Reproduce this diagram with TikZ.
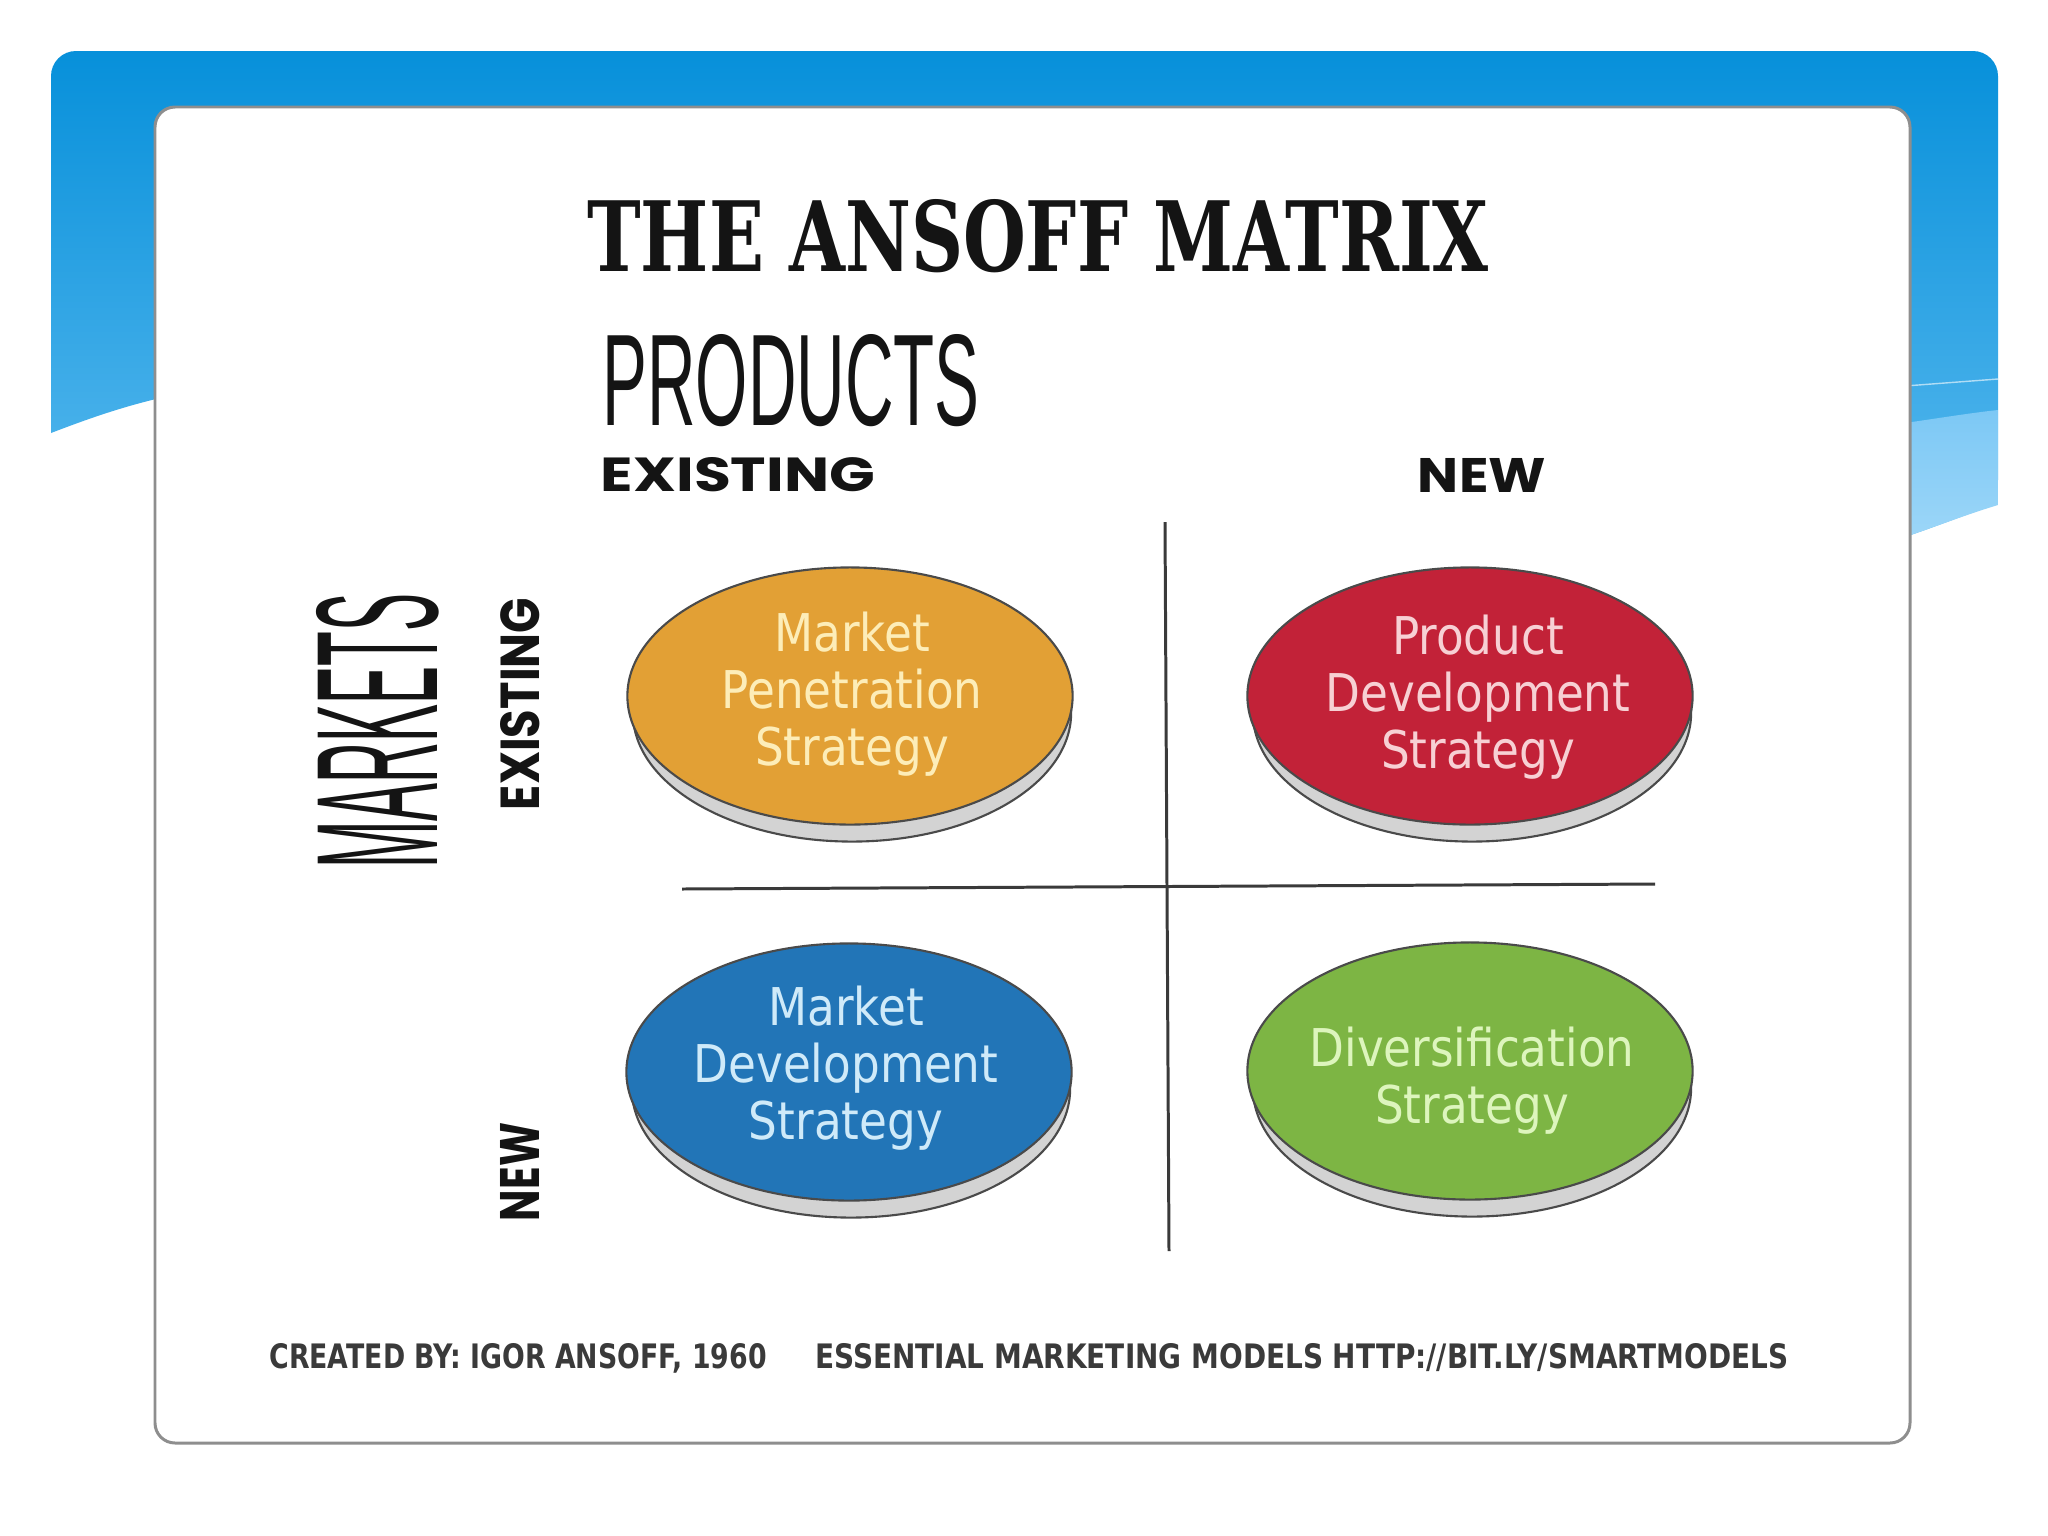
\documentclass[tikz,border=0pt]{standalone}
\usepackage{fontspec}
\setmainfont{DejaVu Sans}
\newfontfamily\titlef{DejaVu Serif}
\newfontfamily\thinf{Liberation Sans}
\newfontfamily\popf{Poppins}
\newfontfamily\footf{DejaVu Sans}
\newfontfamily\discf{DejaVu Sans}[FakeStretch=0.87]
\usetikzlibrary{shapes.geometric}
\definecolor{hdrTop}{HTML}{0790DA}
\definecolor{hdrBot}{HTML}{62BEF1}
\definecolor{bandTop}{HTML}{7CC8F5}
\definecolor{bandBot}{HTML}{9CD6F8}
\definecolor{cardLine}{HTML}{8E8E8E}
\definecolor{inkC}{HTML}{141414}
\definecolor{axisC}{HTML}{3A3A3A}
\definecolor{orangeC}{HTML}{E2A035}
\definecolor{redC}{HTML}{C22238}
\definecolor{blueC}{HTML}{2275B7}
\definecolor{greenC}{HTML}{7DB544}
\definecolor{orangeT}{HTML}{FDEDB8}
\definecolor{redT}{HTML}{F7D0D4}
\definecolor{blueT}{HTML}{CFEAF9}
\definecolor{greenT}{HTML}{DDF5BD}
\definecolor{rimC}{HTML}{D3D3D3}
\definecolor{rimLine}{HTML}{4A4A4A}
\begin{document}
\begin{tikzpicture}[x=0.01cm, y=-0.01cm,
  lbl/.style={inner sep=0pt, outer sep=0pt, text=inkC},
  axisline/.style={draw=axisC, line width=0.85pt},
  disc/.style={ellipse, draw=rimLine, line width=0.6pt, minimum width=4.45cm, minimum height=2.57cm, inner sep=0pt},
  rim/.style={ellipse, draw=rimLine, fill=rimC, line width=0.6pt, minimum width=4.38cm, minimum height=2.57cm, inner sep=0pt},
  disclabel/.style={inner sep=0pt, align=center, font=\discf\fontsize{14.8}{16.2}\selectfont},
  cardstyle/.style={fill=white, draw=cardLine, line width=0.85pt, rounded corners=0.2cm}
]
\useasboundingbox (0,0) rectangle (2048,1536);
\fill[white] (0,0) rectangle (2048,1536);

% header band
\shade[top color=hdrTop, bottom color=hdrBot, rounded corners=0.25cm]
  (51,433) -- (51,51) -- (1998,51) -- (1998,505) [sharp corners]
  .. controls (1965,515) and (1940,525) .. (1905,537) -- (1905,600) -- (160,600) -- (160,398)
  .. controls (118,408) and (85,420) .. (51,433) -- cycle;
\shade[top color=bandTop, bottom color=bandBot]
  (1905,423) .. controls (1940,418) and (1970,413) .. (1998,410) -- (1998,505)
  .. controls (1965,515) and (1940,525) .. (1905,537) -- cycle;
\draw[white, opacity=0.6, line width=0.4pt] (1905,386) -- (1998,379);

% card
\draw[cardstyle] (155,107) rectangle (1910,1443);

% titles
\node[lbl] (title) at (1038,236) {\resizebox{9.01cm}{0.72cm}{\titlef\bfseries THE ANSOFF MATRIX}};
\node[lbl] (products) at (791,381) {\resizebox{3.77cm}{0.91cm}{\thinf PRODUCTS}};
\node[lbl] (pexist) at (738,475) {\resizebox{2.74cm}{0.34cm}{\popf\bfseries EXISTING}};
\node[lbl] (pnew) at (1482,475) {\resizebox{1.28cm}{0.34cm}{\popf\bfseries NEW}};
\node[lbl, rotate=90] (markets) at (378,731) {\resizebox{2.75cm}{1.21cm}{\thinf MARKETS}};
\node[lbl, rotate=90] (mexist) at (520,704) {\resizebox{2.12cm}{0.39cm}{\popf\bfseries EXISTING}};
\node[lbl, rotate=90] (mnew) at (520,1172) {\resizebox{0.98cm}{0.39cm}{\popf\bfseries NEW}};

% axes
\coordinate (vtop) at (1165,522);
\coordinate (vbot) at (1169,1251);
\coordinate (hleft) at (682,889);
\coordinate (hright) at (1655,884);
\draw[axisline] (vtop) -- (vbot);
\draw[axisline] (hleft) -- (hright);

% discs
\node[rim] (rimMP) at (852,713) {};
\node[disc, fill=orangeC] (mp) at (850,696) {};
\node[disclabel, text=orangeT] (mpT) at (852,694) {Market\\Penetration\\Strategy};

\node[rim] (rimPD) at (1472,713) {};
\node[disc, fill=redC] (pd) at (1470,696) {};
\node[disclabel, text=redT] (pdT) at (1478,697) {Product\\Development\\Strategy};

\node[rim] (rimMD) at (851,1089) {};
\node[disc, fill=blueC] (md) at (849,1072) {};
\node[disclabel, text=blueT] (mdT) at (846,1068) {Market\\Development\\Strategy};

\node[rim] (rimDV) at (1472,1088) {};
\node[disc, fill=greenC] (dv) at (1470,1071) {};
\node[disclabel, text=greenT] (dvT) at (1472,1081) {Diversification\\Strategy};

% footer
\node[lbl, text=axisC] (footL) at (518,1358) {\resizebox{4.97cm}{0.25cm}{\footf\bfseries CREATED BY: IGOR ANSOFF, 1960}};
\node[lbl, text=axisC] (footR) at (1302,1358) {\resizebox{9.73cm}{0.25cm}{\footf\bfseries ESSENTIAL MARKETING MODELS HTTP://BIT.LY/SMARTMODELS}};
\end{tikzpicture}
\end{document}
